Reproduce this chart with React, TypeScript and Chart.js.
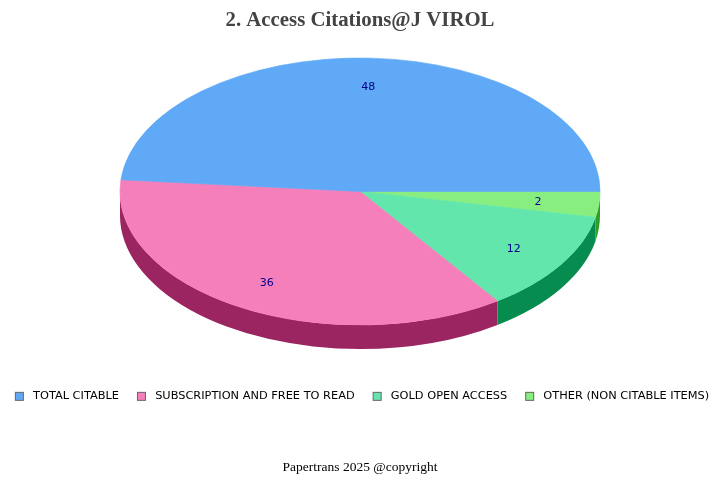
import { useEffect, useRef } from "react";
import { Chart, registerables } from "chart.js";

Chart.register(...registerables);

// legend order, the slices run counter-clockwise from 3 o'clock
const categories = [
  "TOTAL CITABLE",
  "SUBSCRIPTION AND FREE TO READ",
  "GOLD OPEN ACCESS",
  "OTHER (NON CITABLE ITEMS)",
];
const sliceSizes = [48.6, 36.1, 12.2, 3.1];
const printedLabels = ["48", "36", "12", "2"];
const topColors = ["#60a9f6", "#f47fbb", "#62e6ac", "#88ee80"];
const sideColors = ["#2a6fc0", "#9a2560", "#078c50", "#2e9e28"];

const PIE_X = 360;
const PIE_Y = 191.5;
const PIE_RX = 240;
const PIE_RY = 133.5;
const PIE_DEPTH = 24;
const LABEL_REACH = [0.78, 0.775, 0.765, 0.745];
const LEGEND_SHIFT = 2;

const pie3d = {
  id: "pie3d",
  afterLayout(chart: any) {
    // the legend sits a little right of centre, the title and footer do not
    chart.legend.left += LEGEND_SHIFT;
    chart.legend.right += LEGEND_SHIFT;
  },
  beforeDatasetsDraw(chart: any) {
    const ctx = chart.ctx;
    const arcs = chart.getDatasetMeta(0).data;
    const r = arcs[0].outerRadius;
    const sy = PIE_RY / r;
    ctx.save();
    ctx.translate(PIE_X, PIE_Y);
    ctx.scale(PIE_RX / r, sy);
    ctx.translate(-arcs[0].x, -arcs[0].y);
    // side wall, only the front half shows
    arcs.forEach((arc: any, i: number) => {
      const a = Math.max(arc.startAngle, 0);
      const b = Math.min(arc.endAngle, Math.PI);
      if (b <= a) return;
      ctx.beginPath();
      ctx.arc(arc.x, arc.y, r, a, b);
      ctx.arc(arc.x, arc.y + PIE_DEPTH / sy, r, b, a, true);
      ctx.closePath();
      ctx.fillStyle = [...sideColors].reverse()[i];
      ctx.fill();
    });
  },
  afterDatasetsDraw(chart: any) {
    const ctx = chart.ctx;
    ctx.restore();
    const labels = [...printedLabels].reverse();
    const reach = [...LABEL_REACH].reverse();
    ctx.save();
    ctx.font = "11px 'DejaVu Sans'";
    ctx.fillStyle = "#00008b";
    ctx.textAlign = "center";
    ctx.textBaseline = "middle";
    chart.getDatasetMeta(0).data.forEach((arc: any, i: number) => {
      const mid = (arc.startAngle + arc.endAngle) / 2;
      ctx.fillText(
        labels[i],
        PIE_X + Math.cos(mid) * PIE_RX * reach[i],
        PIE_Y + 0.5 + Math.sin(mid) * PIE_RY * 0.785
      );
    });
    ctx.restore();
  },
  afterDraw(chart: any) {
    // small legend squares, the library's own are left transparent to keep the text gap
    const ctx = chart.ctx;
    chart.legend.legendHitBoxes.forEach((box: any, i: number) => {
      ctx.fillStyle = topColors[i];
      ctx.strokeStyle = "#666666";
      ctx.lineWidth = 1;
      ctx.fillRect(box.left + 0.5, box.top + 1.5, 8, 8);
      ctx.strokeRect(box.left + 0.5, box.top + 1.5, 8, 8);
    });
  },
};

export default function App() {
  const chartRef = useRef<HTMLCanvasElement>(null);

  useEffect(() => {
    if (!chartRef.current) return;
    const chart = new Chart(chartRef.current, {
      type: "pie",
      data: {
        labels: [...categories].reverse(),
        datasets: [
          {
            data: [...sliceSizes].reverse(),
            backgroundColor: [...topColors].reverse(),
            borderColor: [...topColors].reverse(),
            borderWidth: 0.6,
            clip: false,
          } as any,
        ],
      },
      options: {
        responsive: false,
        animation: false,
        rotation: 90,
        // negative side padding so the one-row legend does not wrap
        layout: { padding: { left: -20, right: -20 } },
        plugins: {
          title: {
            display: true,
            text: "2. Access Citations@J VIROL",
            color: "#444444",
            font: { family: "'Liberation Serif'", size: 20.8, weight: "bold" },
            padding: { top: 8, bottom: 6 },
          },
          subtitle: {
            display: true,
            position: "bottom",
            text: "Papertrans 2025 @copyright",
            color: "#000000",
            font: { family: "'Liberation Serif'", size: 13.5 },
            padding: { top: 47, bottom: 4.6 },
          },
          legend: {
            position: "bottom",
            labels: {
              boxWidth: 12.5,
              boxHeight: 9,
              padding: 18,
              color: "#111111",
              font: { family: "'DejaVu Sans'", size: 11.35 },
              generateLabels: () =>
                categories.map((text, i) => ({
                  text,
                  index: i,
                  datasetIndex: 0,
                  fillStyle: "transparent",
                  strokeStyle: "transparent",
                  lineWidth: 0,
                  hidden: false,
                })),
            },
          },
          tooltip: { enabled: false },
        },
      },
      plugins: [pie3d],
    });
    return () => chart.destroy();
  }, []);

  return (
    <div style={{ position: "absolute", left: 0, top: 0, width: 720, height: 480, background: "#fff" }}>
      <canvas ref={chartRef} width={720} height={480} style={{ display: "block" }} />
    </div>
  );
}
